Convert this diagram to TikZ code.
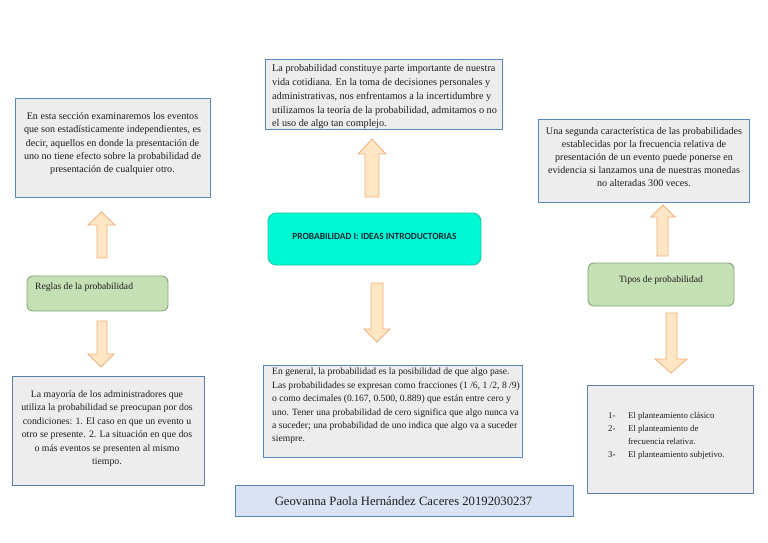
\documentclass[tikz,border=0pt]{standalone}
\usepackage{fontspec}
\setmainfont{Liberation Serif}
\newfontfamily\calib{Carlito}
\definecolor{boxgray}{HTML}{EDEDED}
\definecolor{boxblue}{HTML}{5A86BE}
\definecolor{boxblue2}{HTML}{5B7FA6}
\definecolor{aqua}{HTML}{00F8D2}
\definecolor{aquaedge}{HTML}{1EC7A6}
\definecolor{greenfill}{HTML}{C5E0B4}
\definecolor{greenedge}{HTML}{86A679}
\definecolor{arrowfill}{HTML}{FFE6C4}
\definecolor{arrowline}{HTML}{F2AE7A}
\definecolor{namefill}{HTML}{DAE3F3}
\definecolor{titlecol}{HTML}{182838}
\definecolor{txtcol}{HTML}{1E1E1E}
\tikzset{
  graybox/.style={draw=boxblue, fill=boxgray, line width=0.9pt, inner sep=0pt},
  greenbox/.style={draw=greenedge, fill=greenfill, line width=0.9pt, rounded corners=6pt, inner sep=0pt},
  blockarrow/.style={draw=arrowline, fill=arrowfill, line width=0.8pt, line join=miter},
  txt/.style={font=\fontsize{9.6}{13.4}\selectfont, text=txtcol, inner sep=0pt},
}
\begin{document}
\begin{tikzpicture}[x=1pt,y=-1pt]
\useasboundingbox[fill=white] (0,0) rectangle (768,543);

% boxes
\node (b1) [graybox, minimum width=195pt, minimum height=99pt] at (112.5,147.5) {};
\node (b2) [graybox, minimum width=237pt, minimum height=70pt] at (383.5,94) {};
\node (b3) [graybox, minimum width=211pt, minimum height=83pt] at (643.5,160.5) {};
\node (c) [draw=aquaedge, fill=aqua, line width=0.9pt, rounded corners=8pt, minimum width=213pt, minimum height=52pt] at (374.5,239) {};
\node (r) [greenbox, minimum width=141pt, minimum height=35pt] at (97.5,293.5) {};
\node (t) [greenbox, minimum width=146pt, minimum height=43pt] at (661,284.5) {};
\node (b7) [graybox, draw=boxblue2, minimum width=192pt, minimum height=109pt] at (108,430.5) {};
\node (b8) [graybox, minimum width=259pt, minimum height=92pt] at (392.5,411) {};
\node (b9) [graybox, draw=boxblue2, minimum width=166pt, minimum height=108pt] at (670,439) {};
\node (nm) [graybox, fill=namefill, minimum width=338pt, minimum height=31pt] at (404,500.5) {};

% texts
\node (t1) [txt, font=\fontsize{10.1}{13.2}\selectfont, anchor=north, align=center] at (112.5,112.5) {En esta sección examinaremos los eventos\\que son estadísticamente independientes, es\\decir, aquellos en donde la presentación de\\uno no tiene efecto sobre la probabilidad de\\presentación de cualquier otro.};
\node (t2) [txt, font=\fontsize{10.2}{13.8}\selectfont, anchor=north west, align=left] at (272,64.5) {La probabilidad constituye parte importante de nuestra\\vida cotidiana. En la toma de decisiones personales y\\administrativas, nos enfrentamos a la incertidumbre y\\utilizamos la teoría de la probabilidad, admitamos o no\\el uso de algo tan complejo.};
\node (t3) [txt, font=\fontsize{10.1}{13}\selectfont, anchor=north, align=center] at (644,127.5) {Una segunda característica de las probabilidades\\establecidas por la frecuencia relativa de\\presentación de un evento puede ponerse en\\evidencia si lanzamos una de nuestras monedas\\no alteradas 300 veces.};
\node (tc) [font=\calib\bfseries\fontsize{9.4}{11}\selectfont, text=titlecol, inner sep=0pt] at (374.5,236) {PROBABILIDAD I: IDEAS INTRODUCTORIAS};
\node (tr) [txt, anchor=west] at (35,287) {Reglas de la probabilidad};
\node (tt) [txt] at (661,280) {Tipos de probabilidad};
\node (t7) [txt, font=\fontsize{9.8}{13.4}\selectfont, anchor=north, align=center] at (107,390.5) {La mayoría de los administradores que\\utiliza la probabilidad se preocupan por dos\\condiciones: 1. El caso en que un evento u\\otro se presente. 2. La situación en que dos\\o más eventos se presenten al mismo\\tiempo.};
\node (t8) [txt, anchor=north west, align=left] at (272,368) {En general, la probabilidad es la posibilidad de que algo pase.\\Las probabilidades se expresan como fracciones (1 /6, 1 /2, 8 /9)\\o como decimales (0.167, 0.500, 0.889) que están entre cero y\\uno. Tener una probabilidad de cero significa que algo nunca va\\a suceder; una probabilidad de uno indica que algo va a suceder\\siempre.};
\node (t9) [txt, anchor=north west, align=left, font=\fontsize{8.8}{12.9}\selectfont] at (608,412.5) {1-\hspace{12.5pt}El planteamiento clásico\\2-\hspace{12.5pt}El planteamiento de\\\hphantom{2-}\hspace{12.5pt}frecuencia relativa.\\3-\hspace{12.5pt}El planteamiento subjetivo.};
\node (tn) [txt, font=\fontsize{12.7}{15}\selectfont] at (403.5,501) {Geovanna Paola Hernández Caceres 20192030237};

% block arrows
% top centre, up
\draw[blockarrow] (365,197) -- (365,154) -- (358,154) -- (372,139) -- (386,154) -- (379,154) -- (379,197) -- cycle;
% centre, down
\draw[blockarrow] (371,283) -- (371,329) -- (364,329) -- (377,342) -- (390,329) -- (383,329) -- (383,283) -- cycle;
% left, up
\draw[blockarrow] (97,258) -- (97,225) -- (88,225) -- (101.5,212) -- (115,225) -- (107,225) -- (107,258) -- cycle;
% left, down
\draw[blockarrow] (97,321) -- (97,354) -- (88,354) -- (101,367) -- (114,354) -- (107,354) -- (107,321) -- cycle;
% right, up
\draw[blockarrow] (657,256) -- (657,217) -- (651,217) -- (663,205) -- (675,217) -- (668,217) -- (668,256) -- cycle;
% right, down
\draw[blockarrow] (666,313) -- (666,359) -- (655,359) -- (671,373) -- (687,359) -- (677,359) -- (677,313) -- cycle;
\end{tikzpicture}
\end{document}
